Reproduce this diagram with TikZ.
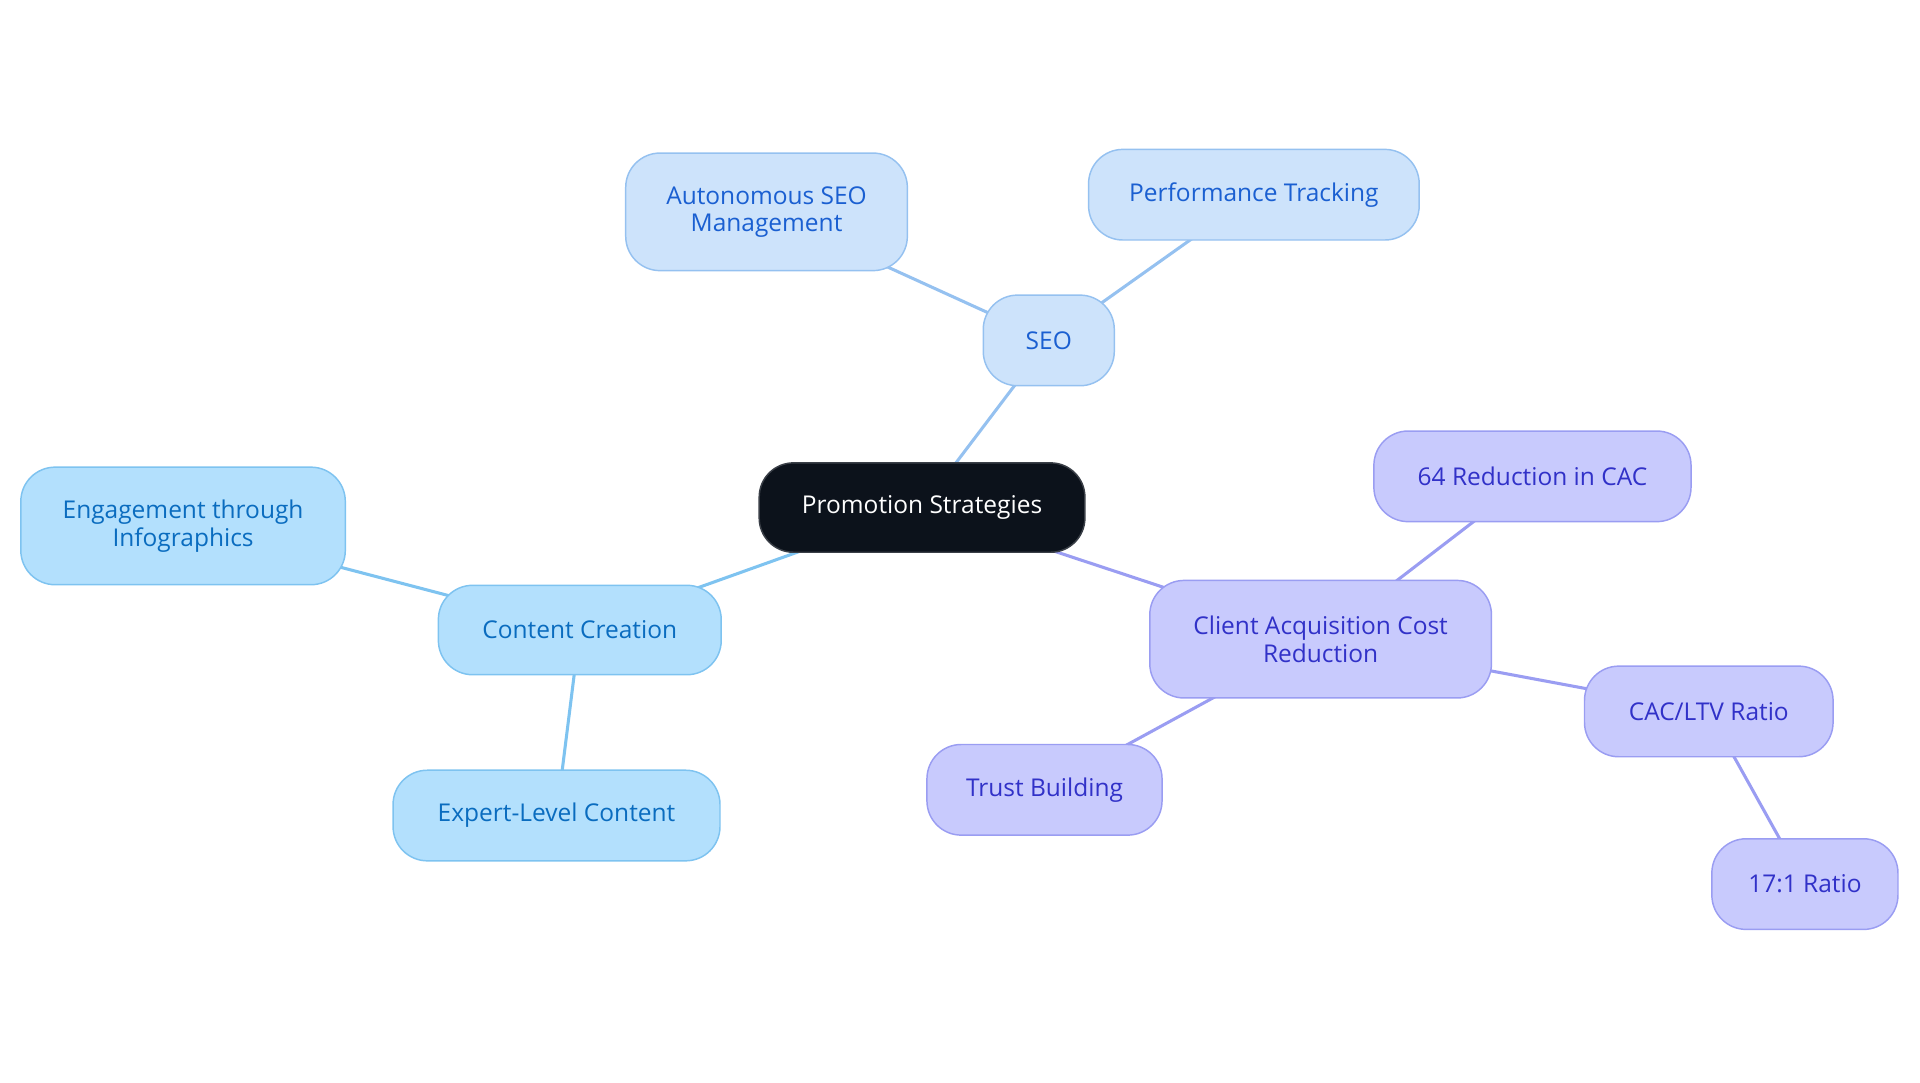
\documentclass[tikz,border=0pt]{standalone}
\usepackage{fontspec}
\setmainfont{Open Sans}
\usetikzlibrary{backgrounds}
\definecolor{rootfill}{HTML}{0C121B}
\definecolor{rootdraw}{HTML}{3A3F47}
\definecolor{seofill}{HTML}{CDE3FB}
\definecolor{seodraw}{HTML}{95C1F0}
\definecolor{seotext}{HTML}{1A5FD1}
\definecolor{ccfill}{HTML}{B3E0FD}
\definecolor{ccdraw}{HTML}{7EC3F0}
\definecolor{cctext}{HTML}{0A6CBF}
\definecolor{cacfill}{HTML}{C8CAFD}
\definecolor{cacdraw}{HTML}{9A9DF2}
\definecolor{cactext}{HTML}{3131C8}
\tikzset{
  base/.style={rounded corners=28pt, line width=1.2pt, align=center, inner sep=0pt,
    font=\fontsize{20}{22.5}\selectfont},
  rootbox/.style={base, fill=rootfill, draw=rootdraw, text=white},
  seobox/.style={base, fill=seofill, draw=seodraw, text=seotext},
  ccbox/.style={base, fill=ccfill, draw=ccdraw, text=cctext},
  cacbox/.style={base, fill=cacfill, draw=cacdraw, text=cactext},
  seoedge/.style={draw=seodraw, line width=2.5pt},
  ccedge/.style={draw=ccdraw, line width=2.5pt},
  cacedge/.style={draw=cacdraw, line width=2.5pt},
}
\begin{document}
\begin{tikzpicture}[x=1pt,y=-1pt]
\useasboundingbox (0,0) rectangle (1568,884.4);
\node[rootbox, minimum width=266pt, minimum height=73pt] (root) at (753,414.5) {Promotion Strategies};
\node[seobox, minimum width=107pt, minimum height=74pt] (seo) at (856.5,278) {SEO};
\node[seobox, minimum width=230pt, minimum height=96pt] (auto) at (626,173) {Autonomous SEO\\Management};
\node[seobox, minimum width=270pt, minimum height=74pt] (perf) at (1024,159) {Performance Tracking};
\node[ccbox, minimum width=231pt, minimum height=73pt] (cc) at (473.5,514.5) {Content Creation};
\node[ccbox, minimum width=265pt, minimum height=96pt] (eng) at (149.5,429.5) {Engagement through\\Infographics};
\node[ccbox, minimum width=267pt, minimum height=74pt] (exp) at (454.5,666) {Expert-Level Content};
\node[cacbox, minimum width=279pt, minimum height=96pt] (cac) at (1078.5,522) {Client Acquisition Cost\\Reduction};
\node[cacbox, minimum width=259pt, minimum height=74pt] (red) at (1251.5,389) {64 Reduction in CAC};
\node[cacbox, minimum width=203pt, minimum height=74pt] (ltv) at (1395.5,581) {CAC/LTV Ratio};
\node[cacbox, minimum width=192pt, minimum height=74pt] (trust) at (853,645) {Trust Building};
\node[cacbox, minimum width=152pt, minimum height=74pt] (ratio) at (1474,722) {17:1 Ratio};
\begin{pgfonlayer}{background}
\draw[seoedge] (root.center) -- (seo.center);
\draw[seoedge] (seo.center) -- (auto.center);
\draw[seoedge] (seo.center) -- (perf.center);
\draw[ccedge] (root.center) -- (cc.center);
\draw[ccedge] (cc.center) -- (eng.center);
\draw[ccedge] (cc.center) -- (exp.center);
\draw[cacedge] (root.center) -- (cac.center);
\draw[cacedge] (cac.center) -- (red.center);
\draw[cacedge] (cac.center) -- (ltv.center);
\draw[cacedge] (cac.center) -- (trust.center);
\draw[cacedge] (ltv.center) -- (ratio.center);
\end{pgfonlayer}
\end{tikzpicture}
\end{document}
